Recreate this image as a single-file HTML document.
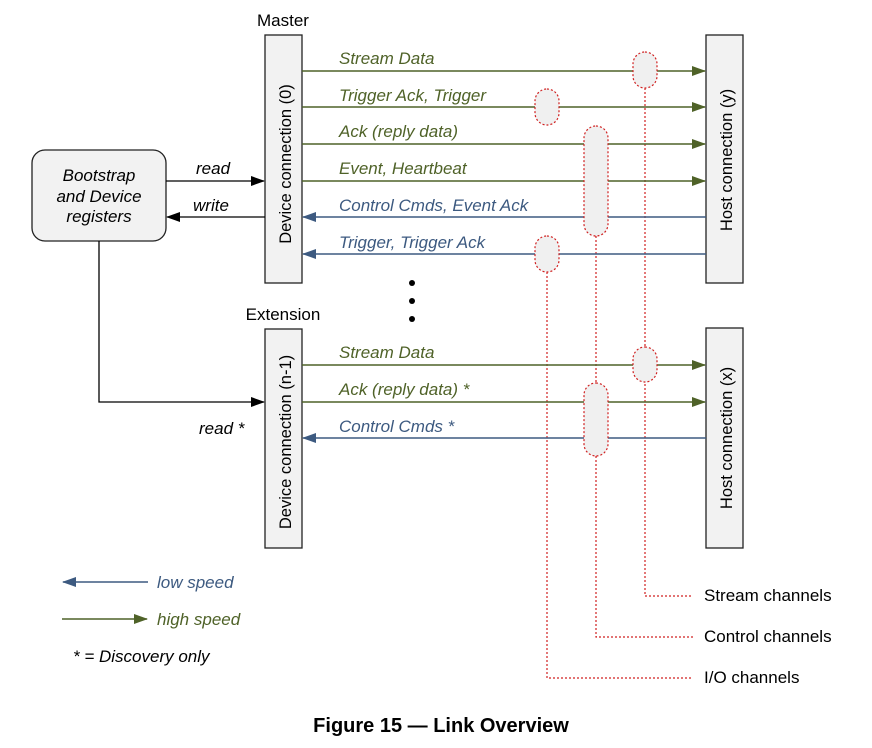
<!DOCTYPE html>
<html><head><meta charset="utf-8"><style>
html,body{margin:0;padding:0;background:#fff;}
svg{display:block;}
text{font-family:"Liberation Sans",Arial,sans-serif;}
</style></head><body>
<svg width="872" height="748" viewBox="0 0 872 748" xmlns="http://www.w3.org/2000/svg">
<defs>
<marker id="g" markerWidth="14" markerHeight="10" refX="13" refY="5" orient="auto" markerUnits="userSpaceOnUse"><path d="M0,0 L14,5 L0,10 z" fill="#4f6228"/></marker>
<marker id="b" markerWidth="14" markerHeight="10" refX="13" refY="5" orient="auto" markerUnits="userSpaceOnUse"><path d="M0,0 L14,5 L0,10 z" fill="#3d5a80"/></marker>
<marker id="k" markerWidth="14" markerHeight="10" refX="13" refY="5" orient="auto" markerUnits="userSpaceOnUse"><path d="M0,0 L14,5 L0,10 z" fill="#000"/></marker>
</defs>

<rect x="265" y="35" width="37" height="248" fill="#f2f2f2" stroke="#222" stroke-width="1.3"/>
<rect x="706" y="35" width="37" height="248" fill="#f2f2f2" stroke="#222" stroke-width="1.3"/>
<rect x="265" y="329" width="37" height="219" fill="#f2f2f2" stroke="#222" stroke-width="1.3"/>
<rect x="706" y="328" width="37" height="220" fill="#f2f2f2" stroke="#222" stroke-width="1.3"/>
<rect x="32" y="150" width="134" height="91" rx="13" fill="#f2f2f2" stroke="#222" stroke-width="1.3"/>

<text x="283" y="26" font-size="17" text-anchor="middle">Master</text>
<text x="283" y="320" font-size="17" text-anchor="middle">Extension</text>
<text transform="translate(291,164) rotate(-90)" font-size="16.5" text-anchor="middle">Device connection (0)</text>
<text transform="translate(732,160) rotate(-90)" font-size="16.5" text-anchor="middle">Host connection (y)</text>
<text transform="translate(291,442) rotate(-90)" font-size="16.5" text-anchor="middle">Device connection (n-1)</text>
<text transform="translate(732,438) rotate(-90)" font-size="16.5" text-anchor="middle">Host connection (x)</text>

<g font-size="17" font-style="italic" text-anchor="middle">
<text x="99" y="181">Bootstrap</text>
<text x="99" y="202">and Device</text>
<text x="99" y="222">registers</text>
</g>

<line x1="166" y1="181" x2="264" y2="181" stroke="#000" stroke-width="1.3" marker-end="url(#k)"/>
<line x1="265" y1="217" x2="167" y2="217" stroke="#000" stroke-width="1.3" marker-end="url(#k)"/>
<polyline points="99,241 99,402 264,402" fill="none" stroke="#000" stroke-width="1.3" marker-end="url(#k)"/>
<g font-size="17" font-style="italic">
<text x="196" y="174">read</text>
<text x="193" y="211">write</text>
<text x="199" y="434">read *</text>
</g>

<g fill="none" stroke="#d02020" stroke-width="1.2" stroke-dasharray="2,2">
<polyline points="645,88 645,596 693,596"/>
<polyline points="596,236 596,637 693,637"/>
<polyline points="547,272 547,678 693,678"/>
</g>

<g stroke-width="1.6">
<line x1="302" y1="71" x2="705" y2="71" stroke="#4f6228" marker-end="url(#g)"/>
<line x1="302" y1="107" x2="705" y2="107" stroke="#4f6228" marker-end="url(#g)"/>
<line x1="302" y1="144" x2="705" y2="144" stroke="#4f6228" marker-end="url(#g)"/>
<line x1="302" y1="181" x2="705" y2="181" stroke="#4f6228" marker-end="url(#g)"/>
<line x1="706" y1="217" x2="303" y2="217" stroke="#3d5a80" marker-end="url(#b)"/>
<line x1="706" y1="254" x2="303" y2="254" stroke="#3d5a80" marker-end="url(#b)"/>
<line x1="302" y1="365" x2="705" y2="365" stroke="#4f6228" marker-end="url(#g)"/>
<line x1="302" y1="402" x2="705" y2="402" stroke="#4f6228" marker-end="url(#g)"/>
<line x1="706" y1="438" x2="303" y2="438" stroke="#3d5a80" marker-end="url(#b)"/>
</g>

<g fill="#f0f0f0" stroke="#d02020" stroke-width="1.2" stroke-dasharray="2,2">
<rect x="633" y="52" width="24" height="36" rx="12"/>
<rect x="535" y="89" width="24" height="36" rx="12"/>
<rect x="584" y="126" width="24" height="110" rx="12"/>
<rect x="535" y="236" width="24" height="36" rx="12"/>
<rect x="633" y="347" width="24" height="35" rx="12"/>
<rect x="584" y="383" width="24" height="73" rx="12"/>
</g>

<g font-size="17" font-style="italic">
<text x="339" y="64" fill="#4f6228">Stream Data</text>
<text x="339" y="101" fill="#4f6228">Trigger Ack, Trigger</text>
<text x="339" y="137" fill="#4f6228">Ack (reply data)</text>
<text x="339" y="174" fill="#4f6228">Event, Heartbeat</text>
<text x="339" y="211" fill="#3d5a80">Control Cmds, Event Ack</text>
<text x="339" y="248" fill="#3d5a80">Trigger, Trigger Ack</text>
<text x="339" y="358" fill="#4f6228">Stream Data</text>
<text x="339" y="395" fill="#4f6228">Ack (reply data) *</text>
<text x="339" y="432" fill="#3d5a80">Control Cmds *</text>
</g>

<circle cx="412" cy="283" r="3" fill="#000"/>
<circle cx="412" cy="301" r="3" fill="#000"/>
<circle cx="412" cy="319" r="3" fill="#000"/>

<g font-size="17">
<text x="704" y="601">Stream channels</text>
<text x="704" y="642">Control channels</text>
<text x="704" y="683">I/O channels</text>
</g>

<line x1="148" y1="582" x2="63" y2="582" stroke="#3d5a80" stroke-width="1.6" marker-end="url(#b)"/>
<line x1="62" y1="619" x2="147" y2="619" stroke="#4f6228" stroke-width="1.6" marker-end="url(#g)"/>
<g font-size="17" font-style="italic">
<text x="157" y="588" fill="#3d5a80">low speed</text>
<text x="157" y="625" fill="#4f6228">high speed</text>
<text x="73" y="662" fill="#000">* = Discovery only</text>
</g>

<text x="441" y="732" font-size="20" font-weight="bold" text-anchor="middle">Figure 15 — Link Overview</text>
</svg>
</body></html>
